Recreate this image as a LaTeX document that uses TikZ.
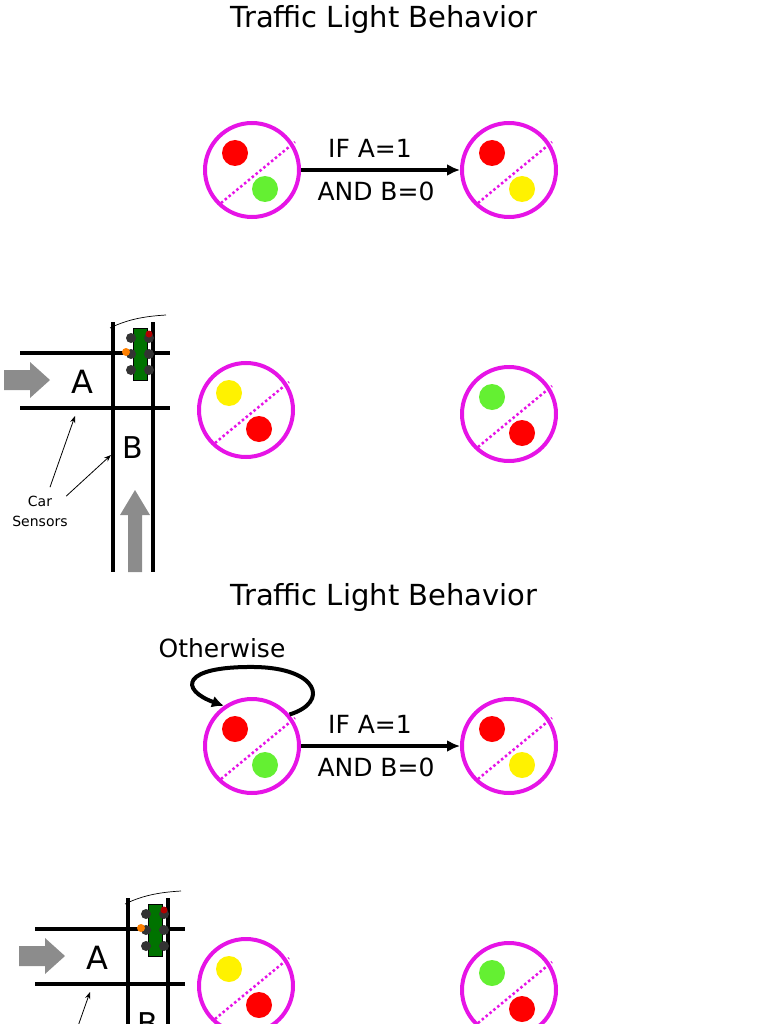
\documentclass[tikz,border=0pt]{standalone}
\usepackage{fontspec}
\setmainfont{DejaVu Sans}
\usetikzlibrary{arrows.meta,calc}
\definecolor{mag}{RGB}{230,20,230}
\definecolor{lgreen}{RGB}{100,240,50}
\begin{document}
\begin{tikzpicture}[x=1pt,y=-1pt,
  st/.style={circle,draw=mag,line width=4pt,minimum size=94pt,inner sep=0pt},
  dot/.style={circle,fill=#1,minimum size=26pt,inner sep=0pt},
  diag/.style={mag,line width=2.5pt,dash pattern=on 2.5pt off 2.5pt},
  lab/.style={font=\fontsize{25}{27}\selectfont},
  ttl/.style={font=\fontsize{29}{31}\selectfont},
  road/.style={line width=3.5pt},
  garrow/.style={fill=gray!90},
  trans/.style={line width=3.5pt,-{Latex[length=13pt,width=12pt]}},
  sens/.style={-{Stealth[length=7pt]},line width=0.8pt}]
\useasboundingbox (0,0) rectangle (768,1024);
\newcommand{\tlstate}[5]{%
  \node[st] (#1) at (#2,#3) {};
  \draw[diag] ($(#1)+(-31,33)$) -- ($(#1)+(43,-28)$);
  \node[dot=#4] (#1t) at ($(#1)+(-17,-17)$) {};
  \node[dot=#5] (#1b) at ($(#1)+(13,19)$) {};}
\newcommand{\intersection}[3]{%
 \begin{scope}[shift={(#1,#2)}]
  \draw[road] (20,353) -- (170,353);
  \draw[road] (20,408) -- (170,408);
  \draw[road] (113,322) -- (113,572);
  \draw[road] (153,322) -- (153,572);
  \path[garrow] (4,370) -- (30,370) -- (30,362) -- (50,380) -- (30,398) -- (30,390) -- (4,390) -- cycle;
  \path[garrow] (128,572) -- (128,515) -- (120,515) -- (135,490) -- (150,515) -- (142,515) -- (142,572) -- cycle;
  \node[font=\fontsize{32}{34}\selectfont] (A#3) at (82,382) {A};
  \node[font=\fontsize{30}{32}\selectfont] (B#3) at (133,448) {B};
  \node[font=\fontsize{14}{20}\selectfont,align=center] (cs#3) at (40,511) {Car\\Sensors};
  \coordinate (sa#3) at (75,416);
  \coordinate (sb#3) at (111,455);
  \draw[sens] (cs#3.north) ++(10,-5) -- (sa#3);
  \draw[sens] (cs#3.north east) ++(-5,4) -- (sb#3);
  % traffic light
  \draw[line width=0.7pt] (110,328) .. controls (130,318) and (150,316) .. (166,315);
  \node[draw=black,fill=green!45!black,minimum width=14pt,minimum height=52pt,inner sep=0pt] (tl#3) at (140,354) {};
  \foreach \yy in {338,354,370}{
    \fill[black!80] (131,\yy) circle (5);
    \fill[black!80] (149,\yy) circle (5);}
  \fill[red!70!black] (149,334) circle (3.5);
  \fill[orange] (126,352) circle (4);
 \end{scope}}
% titles
\node[ttl] (t1) at (384,20) {Traffic Light Behavior};
\node[ttl] (t2) at (384,597) {Traffic Light Behavior};
% row 1
\tlstate{s1}{252}{170}{red}{lgreen}
\tlstate{s2}{509}{170}{red}{yellow}
\draw[trans] (s1) -- (s2);
\node[lab] (l1) at (370,148) {IF A=1};
\node[lab] (l2) at (376,191) {AND B=0};
% row 2
\tlstate{s3}{246}{410}{yellow}{red}
\tlstate{s4}{509}{414}{lgreen}{red}
\intersection{0}{0}{a}
% row 3
\tlstate{s5}{252}{746}{red}{lgreen}
\tlstate{s6}{509}{746}{red}{yellow}
\draw[trans] (s5) -- (s6);
\node[lab] (l3) at (370,724) {IF A=1};
\node[lab] (l4) at (376,767) {AND B=0};
\node[lab] (l5) at (222,648) {Otherwise};
\draw[line width=4pt,-{Latex[length=12pt,width=12pt]}] (s5.40) .. controls (330,702) and (318,668) .. (255,667) .. controls (180,666) and (180,690) .. (s5.125);
% row 4
\tlstate{s7}{246}{986}{yellow}{red}
\tlstate{s8}{509}{990}{lgreen}{red}
\intersection{15}{576}{b}
\end{tikzpicture}
\end{document}
